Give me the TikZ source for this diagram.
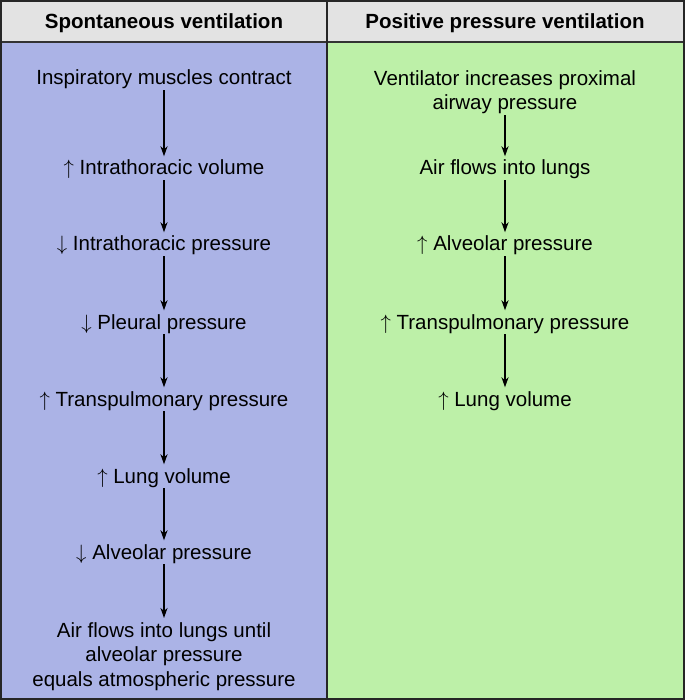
\documentclass[tikz,border=0pt]{standalone}
\usepackage{fontspec}
\setmainfont{Liberation Sans}
\usetikzlibrary{arrows.meta}

\definecolor{spontblue}{RGB}{171,179,230}
\definecolor{ppvgreen}{RGB}{189,240,168}
\definecolor{headgray}{RGB}{227,227,227}

\newcommand{\incr}{$\uparrow$}
\newcommand{\decr}{$\downarrow$}

\tikzset{
  steptext/.style={font=\fontsize{20.5}{24.5}\selectfont, text height=14.5pt, text depth=4pt,
    inner xsep=0pt, inner ysep=1pt, anchor=base},
  multitext/.style={font=\fontsize{20.5}{24.5}\selectfont, align=center, inner sep=1pt, anchor=north},
  headtext/.style={font=\fontsize{20.5}{24.5}\selectfont\bfseries, anchor=base, inner sep=0pt},
  flow/.style={-{Stealth[length=10pt,width=7pt,inset=3pt]}, line width=1.4pt, shorten >=3pt}
}

\begin{document}
\begin{tikzpicture}[x=1pt, y=-1pt]

        \useasboundingbox (0,0) rectangle (685,700);

        % Background of header and the two columns
        \fill[headgray] (0,0) rectangle (685,42);
        \fill[spontblue] (0,42) rectangle (327,700);
        \fill[ppvgreen] (327,42) rectangle (685,700);

        % Frame and dividers
        \draw[line width=2pt, black!80] (0,42) -- (685,42);
        \draw[line width=2pt, black!85] (327,0) -- (327,700);
        \draw[line width=2pt, black!85] (1,1) rectangle (684,699);

        % Column headings
        \node[headtext] (spont) at (164,29) {Spontaneous ventilation};
        \node[headtext] (ppv) at (505,29) {Positive pressure ventilation};

        % Spontaneous ventilation chain
        \node[steptext] (muscles) at (164,85) {Inspiratory muscles contract};
        \node[steptext] (itvol) at (164,175) {\incr\ Intrathoracic volume};
        \node[steptext] (itpres) at (164,251) {\decr\ Intrathoracic pressure};
        \node[steptext] (pleural) at (164,329) {\decr\ Pleural pressure};
        \node[steptext] (tpl) at (164,406) {\incr\ Transpulmonary pressure};
        \node[steptext] (lungvol) at (164,483) {\incr\ Lung volume};
        \node[steptext] (alvdown) at (164,559) {\decr\ Alveolar pressure};
        \node[multitext] (airuntil) at (164,621) {Air flows into lungs until\\alveolar pressure\\equals atmospheric pressure};

        \draw[flow] (muscles.south) -- (itvol.north);
        \draw[flow] (itvol.south) -- (itpres.north);
        \draw[flow] (itpres.south) -- (pleural.north);
        \draw[flow] (pleural.south) -- (tpl.north);
        \draw[flow] (tpl.south) -- (lungvol.north);
        \draw[flow] (lungvol.south) -- (alvdown.north);
        \draw[flow] (alvdown.south) -- (airuntil.north);

        % Positive pressure ventilation chain
        \node[multitext] (vent) at (505,69) {Ventilator increases proximal\\airway pressure};
        \node[steptext] (airin) at (505,175) {Air flows into lungs};
        \node[steptext] (alvup) at (505,251) {\incr\ Alveolar pressure};
        \node[steptext] (tplup) at (505,329) {\incr\ Transpulmonary pressure};
        \node[steptext] (lungup) at (505,406) {\incr\ Lung volume};

        \draw[flow] (vent.south) -- (airin.north);
        \draw[flow] (airin.south) -- (alvup.north);
        \draw[flow] (alvup.south) -- (tplup.north);
        \draw[flow] (tplup.south) -- (lungup.north);

\end{tikzpicture}
\end{document}
